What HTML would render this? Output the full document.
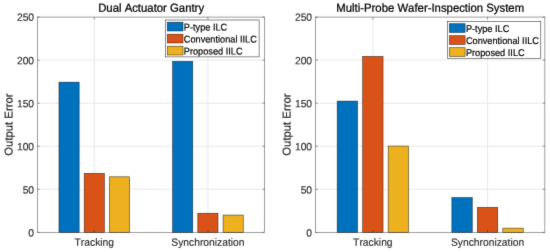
<!DOCTYPE html>
<html><head><meta charset="utf-8"><title>chart</title>
<style>
html,body{margin:0;padding:0;background:#fff;}
svg{display:block;font-family:"Liberation Sans",sans-serif;text-rendering:geometricPrecision;font-kerning:none;}
text{stroke:#262626;stroke-width:0.12px;}
.tk{font-size:10.3px;fill:#262626;}
.yl{font-size:11.3px;fill:#1c1c1c;stroke:#1c1c1c;stroke-width:0.20px;}
.tt{font-size:11.35px;fill:#000;stroke:#000;stroke-width:0.24px;}
.lg{font-size:9.2px;fill:#000;stroke:#000;stroke-width:0.17px;}
</style></head><body>
<svg width="550" height="252" viewBox="0 0 550 252">
<defs><filter id="b" x="0" y="0" width="100%" height="100%" filterUnits="userSpaceOnUse" color-interpolation-filters="sRGB"><feConvolveMatrix order="3" kernelMatrix="0.0081 0.0738 0.0081 0.0738 0.6724 0.0738 0.0081 0.0738 0.0081" divisor="1" edgeMode="duplicate" preserveAlpha="true"/></filter></defs>
<g filter="url(#b)">
<rect width="550" height="252" fill="#fff"/>
<line x1="37.5" y1="189.29" x2="264.7" y2="189.29" stroke="#e2e2e2" stroke-width="0.8"/>
<line x1="37.5" y1="146.23" x2="264.7" y2="146.23" stroke="#e2e2e2" stroke-width="0.8"/>
<line x1="37.5" y1="103.17" x2="264.7" y2="103.17" stroke="#e2e2e2" stroke-width="0.8"/>
<line x1="37.5" y1="60.11" x2="264.7" y2="60.11" stroke="#e2e2e2" stroke-width="0.8"/>
<line x1="94.30" y1="17.05" x2="94.30" y2="232.35" stroke="#e2e2e2" stroke-width="0.8"/>
<line x1="207.90" y1="17.05" x2="207.90" y2="232.35" stroke="#e2e2e2" stroke-width="0.8"/>
<rect x="58.96" y="82.16" width="20.20" height="150.19" fill="#0072BD" stroke="#000" stroke-opacity="0.7" stroke-width="0.6"/>
<rect x="84.20" y="173.36" width="20.20" height="58.99" fill="#D95319" stroke="#000" stroke-opacity="0.7" stroke-width="0.6"/>
<rect x="109.45" y="176.80" width="20.20" height="55.55" fill="#EDB120" stroke="#000" stroke-opacity="0.7" stroke-width="0.6"/>
<rect x="172.56" y="61.32" width="20.20" height="171.03" fill="#0072BD" stroke="#000" stroke-opacity="0.7" stroke-width="0.6"/>
<rect x="197.80" y="213.23" width="20.20" height="19.12" fill="#D95319" stroke="#000" stroke-opacity="0.7" stroke-width="0.6"/>
<rect x="223.05" y="215.04" width="20.20" height="17.31" fill="#EDB120" stroke="#000" stroke-opacity="0.7" stroke-width="0.6"/>
<rect x="37.5" y="17.05" width="227.20" height="215.30" fill="none" stroke="#262626" stroke-width="0.44"/>
<line x1="37.5" y1="232.35" x2="39.8" y2="232.35" stroke="#262626" stroke-width="0.44"/>
<line x1="264.7" y1="232.35" x2="262.4" y2="232.35" stroke="#262626" stroke-width="0.44"/>
<text transform="translate(34.10,236.45) rotate(0.05) scale(1,1.02)" text-anchor="end" class="tk">0</text>
<line x1="37.5" y1="189.29" x2="39.8" y2="189.29" stroke="#262626" stroke-width="0.44"/>
<line x1="264.7" y1="189.29" x2="262.4" y2="189.29" stroke="#262626" stroke-width="0.44"/>
<text transform="translate(34.10,193.39) rotate(0.05) scale(1,1.02)" text-anchor="end" class="tk">50</text>
<line x1="37.5" y1="146.23" x2="39.8" y2="146.23" stroke="#262626" stroke-width="0.44"/>
<line x1="264.7" y1="146.23" x2="262.4" y2="146.23" stroke="#262626" stroke-width="0.44"/>
<text transform="translate(34.10,150.33) rotate(0.05) scale(1,1.02)" text-anchor="end" class="tk">100</text>
<line x1="37.5" y1="103.17" x2="39.8" y2="103.17" stroke="#262626" stroke-width="0.44"/>
<line x1="264.7" y1="103.17" x2="262.4" y2="103.17" stroke="#262626" stroke-width="0.44"/>
<text transform="translate(34.10,107.27) rotate(0.05) scale(1,1.02)" text-anchor="end" class="tk">150</text>
<line x1="37.5" y1="60.11" x2="39.8" y2="60.11" stroke="#262626" stroke-width="0.44"/>
<line x1="264.7" y1="60.11" x2="262.4" y2="60.11" stroke="#262626" stroke-width="0.44"/>
<text transform="translate(34.10,64.21) rotate(0.05) scale(1,1.02)" text-anchor="end" class="tk">200</text>
<line x1="37.5" y1="17.05" x2="39.8" y2="17.05" stroke="#262626" stroke-width="0.44"/>
<line x1="264.7" y1="17.05" x2="262.4" y2="17.05" stroke="#262626" stroke-width="0.44"/>
<text transform="translate(34.10,20.75) rotate(0.05) scale(1,1.02)" text-anchor="end" class="tk">250</text>
<line x1="94.30" y1="232.35" x2="94.30" y2="230.04999999999998" stroke="#262626" stroke-width="0.44"/>
<line x1="94.30" y1="17.05" x2="94.30" y2="19.35" stroke="#262626" stroke-width="0.44"/>
<text transform="translate(94.30,245.75) rotate(0.05) scale(1,1.02)" text-anchor="middle" class="tk">Tracking</text>
<line x1="207.90" y1="232.35" x2="207.90" y2="230.04999999999998" stroke="#262626" stroke-width="0.44"/>
<line x1="207.90" y1="17.05" x2="207.90" y2="19.35" stroke="#262626" stroke-width="0.44"/>
<text transform="translate(207.90,245.75) rotate(0.05) scale(1,1.02)" text-anchor="middle" class="tk">Synchronization</text>
<text transform="translate(151.10,11.8) rotate(0.05) scale(1,1.03)" text-anchor="middle" class="tt">Dual Actuator Gantry</text>
<text transform="translate(12.40,124.60) rotate(-90.05)" text-anchor="middle" class="yl">Output Error</text>
<rect x="165.5" y="20.0" width="93.60" height="36.90" fill="#fff" stroke="#262626" stroke-width="0.54"/>
<rect x="167.30" y="22.20" width="15.7" height="8.8" fill="#0072BD" stroke="#000" stroke-opacity="0.7" stroke-width="0.6"/>
<text transform="translate(183.80,30.50) rotate(0.05) scale(1,1.06)" class="lg">P-type ILC</text>
<rect x="167.30" y="34.20" width="15.7" height="8.8" fill="#D95319" stroke="#000" stroke-opacity="0.7" stroke-width="0.6"/>
<text transform="translate(183.80,42.50) rotate(0.05) scale(1,1.06)" class="lg">Conventional IILC</text>
<rect x="167.30" y="46.20" width="15.7" height="8.8" fill="#EDB120" stroke="#000" stroke-opacity="0.7" stroke-width="0.6"/>
<text transform="translate(183.80,54.50) rotate(0.05) scale(1,1.06)" class="lg">Proposed IILC</text>
<line x1="315.5" y1="189.29" x2="544.9" y2="189.29" stroke="#e2e2e2" stroke-width="0.8"/>
<line x1="315.5" y1="146.23" x2="544.9" y2="146.23" stroke="#e2e2e2" stroke-width="0.8"/>
<line x1="315.5" y1="103.17" x2="544.9" y2="103.17" stroke="#e2e2e2" stroke-width="0.8"/>
<line x1="315.5" y1="60.11" x2="544.9" y2="60.11" stroke="#e2e2e2" stroke-width="0.8"/>
<line x1="372.85" y1="17.05" x2="372.85" y2="232.35" stroke="#e2e2e2" stroke-width="0.8"/>
<line x1="487.55" y1="17.05" x2="487.55" y2="232.35" stroke="#e2e2e2" stroke-width="0.8"/>
<rect x="337.17" y="101.10" width="20.39" height="131.25" fill="#0072BD" stroke="#000" stroke-opacity="0.7" stroke-width="0.6"/>
<rect x="362.65" y="56.41" width="20.39" height="175.94" fill="#D95319" stroke="#000" stroke-opacity="0.7" stroke-width="0.6"/>
<rect x="388.14" y="146.06" width="20.39" height="86.29" fill="#EDB120" stroke="#000" stroke-opacity="0.7" stroke-width="0.6"/>
<rect x="451.87" y="197.56" width="20.39" height="34.79" fill="#0072BD" stroke="#000" stroke-opacity="0.7" stroke-width="0.6"/>
<rect x="477.35" y="207.38" width="20.39" height="24.97" fill="#D95319" stroke="#000" stroke-opacity="0.7" stroke-width="0.6"/>
<rect x="502.84" y="228.13" width="20.39" height="4.22" fill="#EDB120" stroke="#000" stroke-opacity="0.7" stroke-width="0.6"/>
<rect x="315.5" y="17.05" width="229.40" height="215.30" fill="none" stroke="#262626" stroke-width="0.44"/>
<line x1="315.5" y1="232.35" x2="317.8" y2="232.35" stroke="#262626" stroke-width="0.44"/>
<line x1="544.9" y1="232.35" x2="542.6" y2="232.35" stroke="#262626" stroke-width="0.44"/>
<text transform="translate(312.10,236.45) rotate(0.05) scale(1,1.02)" text-anchor="end" class="tk">0</text>
<line x1="315.5" y1="189.29" x2="317.8" y2="189.29" stroke="#262626" stroke-width="0.44"/>
<line x1="544.9" y1="189.29" x2="542.6" y2="189.29" stroke="#262626" stroke-width="0.44"/>
<text transform="translate(312.10,193.39) rotate(0.05) scale(1,1.02)" text-anchor="end" class="tk">50</text>
<line x1="315.5" y1="146.23" x2="317.8" y2="146.23" stroke="#262626" stroke-width="0.44"/>
<line x1="544.9" y1="146.23" x2="542.6" y2="146.23" stroke="#262626" stroke-width="0.44"/>
<text transform="translate(312.10,150.33) rotate(0.05) scale(1,1.02)" text-anchor="end" class="tk">100</text>
<line x1="315.5" y1="103.17" x2="317.8" y2="103.17" stroke="#262626" stroke-width="0.44"/>
<line x1="544.9" y1="103.17" x2="542.6" y2="103.17" stroke="#262626" stroke-width="0.44"/>
<text transform="translate(312.10,107.27) rotate(0.05) scale(1,1.02)" text-anchor="end" class="tk">150</text>
<line x1="315.5" y1="60.11" x2="317.8" y2="60.11" stroke="#262626" stroke-width="0.44"/>
<line x1="544.9" y1="60.11" x2="542.6" y2="60.11" stroke="#262626" stroke-width="0.44"/>
<text transform="translate(312.10,64.21) rotate(0.05) scale(1,1.02)" text-anchor="end" class="tk">200</text>
<line x1="315.5" y1="17.05" x2="317.8" y2="17.05" stroke="#262626" stroke-width="0.44"/>
<line x1="544.9" y1="17.05" x2="542.6" y2="17.05" stroke="#262626" stroke-width="0.44"/>
<text transform="translate(312.10,20.75) rotate(0.05) scale(1,1.02)" text-anchor="end" class="tk">250</text>
<line x1="372.85" y1="232.35" x2="372.85" y2="230.04999999999998" stroke="#262626" stroke-width="0.44"/>
<line x1="372.85" y1="17.05" x2="372.85" y2="19.35" stroke="#262626" stroke-width="0.44"/>
<text transform="translate(372.85,245.75) rotate(0.05) scale(1,1.02)" text-anchor="middle" class="tk">Tracking</text>
<line x1="487.55" y1="232.35" x2="487.55" y2="230.04999999999998" stroke="#262626" stroke-width="0.44"/>
<line x1="487.55" y1="17.05" x2="487.55" y2="19.35" stroke="#262626" stroke-width="0.44"/>
<text transform="translate(487.55,245.75) rotate(0.05) scale(1,1.02)" text-anchor="middle" class="tk">Synchronization</text>
<text transform="translate(430.20,11.8) rotate(0.05) scale(1,1.03)" text-anchor="middle" class="tt">Multi-Probe Wafer-Inspection System</text>
<text transform="translate(290.40,124.60) rotate(-90.05)" text-anchor="middle" class="yl">Output Error</text>
<rect x="447.6" y="21.5" width="93.20" height="37.00" fill="#fff" stroke="#262626" stroke-width="0.54"/>
<rect x="449.40" y="23.70" width="15.7" height="8.8" fill="#0072BD" stroke="#000" stroke-opacity="0.7" stroke-width="0.6"/>
<text transform="translate(465.90,32.00) rotate(0.05) scale(1,1.06)" class="lg">P-type ILC</text>
<rect x="449.40" y="35.70" width="15.7" height="8.8" fill="#D95319" stroke="#000" stroke-opacity="0.7" stroke-width="0.6"/>
<text transform="translate(465.90,44.00) rotate(0.05) scale(1,1.06)" class="lg">Conventional IILC</text>
<rect x="449.40" y="47.70" width="15.7" height="8.8" fill="#EDB120" stroke="#000" stroke-opacity="0.7" stroke-width="0.6"/>
<text transform="translate(465.90,56.00) rotate(0.05) scale(1,1.06)" class="lg">Proposed IILC</text>
</g>
</svg>
</body></html>
